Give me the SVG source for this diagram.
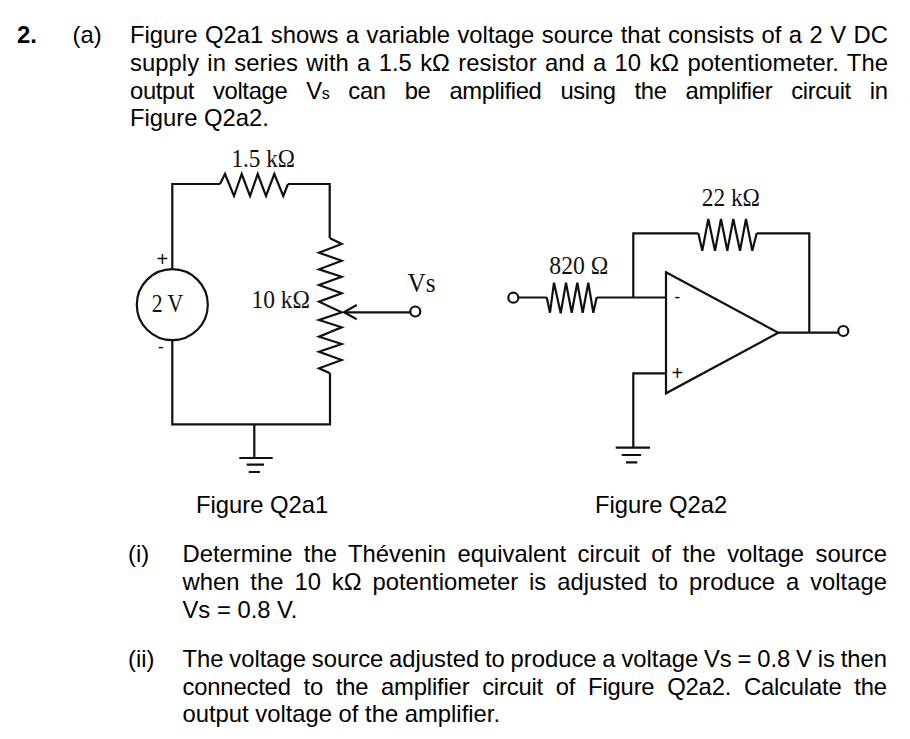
<svg xmlns="http://www.w3.org/2000/svg" width="910" height="739" viewBox="0 0 910 739">
<style>
.t{font-family:"Liberation Sans",Arial,sans-serif;font-size:23.8px;fill:#000}
.b{font-weight:bold}
.s{font-family:"Liberation Serif","Times New Roman",serif;font-size:25px;fill:#111}
.p{font-family:"Liberation Sans",Arial,sans-serif;font-size:20px;fill:#111;text-anchor:middle}
.n{font-family:"Liberation Sans",Arial,sans-serif;font-size:18px;fill:#111;text-anchor:middle}
.w{fill:none;stroke:#111;stroke-width:2.2;stroke-linejoin:miter}
.o{fill:#fff;stroke:#111;stroke-width:2.2}
</style>
<rect width="910" height="739" fill="#fff"/>
<g id="question-text">
<text class="t b" x="17" y="43">2.</text>
<text class="t" x="72.5" y="43">(a)</text>
<text class="t" x="130" y="43" word-spacing="0.84" textLength="758">Figure Q2a1 shows a variable voltage source that consists of a 2 V DC</text>
<text class="t" x="130" y="71" word-spacing="1.59" textLength="758">supply in series with a 1.5 kΩ resistor and a 10 kΩ potentiometer. The</text>
<text class="t" x="130" y="99" word-spacing="12.73" textLength="758">output voltage V<tspan font-size="16">s</tspan> can be amplified using the amplifier circuit in</text>
<text class="t" x="130" y="126">Figure Q2a2.</text>
<text class="t" x="196" y="512.5">Figure Q2a1</text>
<text class="t" x="595" y="512.5">Figure Q2a2</text>
<text class="t" x="128" y="562">(i)</text>
<text class="t" x="182.5" y="562" word-spacing="4.83" textLength="704.5">Determine the Thévenin equivalent circuit of the voltage source</text>
<text class="t" x="182.5" y="590" word-spacing="4.28" textLength="704.5">when the 10 kΩ potentiometer is adjusted to produce a voltage</text>
<text class="t" x="182.5" y="618">Vs = 0.8 V.</text>
<text class="t" x="128" y="667">(ii)</text>
<text class="t" x="182.5" y="667" word-spacing="-0.84" textLength="704.5">The voltage source adjusted to produce a voltage Vs = 0.8 V is then</text>
<text class="t" x="182.5" y="694.5" word-spacing="6.34" textLength="704.5">connected to the amplifier circuit of Figure Q2a2. Calculate the</text>
<text class="t" x="182.5" y="722">output voltage of the amplifier.</text>
</g>
<g id="connectors">
<path class="w" d="M172.3 269V184H220M288 184H329.7V238.3M172.3 340V424.3H330V373.3M254.3 424.3V458"/>
<path class="w" d="M344 312.3H410.3"/>
<path class="w" d="M513.3 297.5H546.7M596.7 297.5H666M633.3 297.5V233.3H698.3M756.7 233.3H809.3V332.7M778.3 332.7H838.3M666 373.3H633.3V447.7"/>
</g>
<g id="source-2v">
<circle class="w" cx="172.3" cy="304.7" r="35.5"/>
<text class="s" x="151.7" y="312" textLength="31.6" lengthAdjust="spacingAndGlyphs">2 V</text>
<text class="p" x="162.3" y="266">+</text>
<text class="n" x="160.7" y="352.5">-</text>
</g>
<g id="r-1k5">
<path class="w" d="M220 184L225 174L234 196L241.7 174L250 196L257.7 174L266 196L274.3 174L283.3 196L288 184"/>
<text class="s" x="231.5" y="166.7" textLength="63.5" lengthAdjust="spacingAndGlyphs">1.5 kΩ</text>
</g>
<g id="pot-10k">
<path class="w" d="M330 238.3L341.7 244L319 252.7L341.7 260.7L319 269.3L341.7 276.7L319 285L341.7 293.3L319 301.7L341.7 312.3L319 320L341.7 327.3L319 336.7L341.7 344L319 351.7L341.7 360L319 368.3L330 373.3"/>
<path class="w" d="M356.7 305L344 312.3L356.7 319.3"/>
<text class="s" x="251.5" y="308" textLength="58.5" lengthAdjust="spacingAndGlyphs">10 kΩ</text>
</g>
<g id="vs-terminal">
<circle class="o" cx="415.3" cy="311.5" r="5"/>
<text class="s" x="407.5" y="292" textLength="28" lengthAdjust="spacingAndGlyphs" style="font-size:27px">Vs</text>
</g>
<g id="ground-1">
<path class="w" d="M239.3 458H272.7M246.7 464.7H264M248.7 472H260"/>
</g>
<g id="input-terminal">
<circle class="o" cx="513.3" cy="297.7" r="5"/>
</g>
<g id="r-820">
<path class="w" d="M546.7 297.3L550 312.7L554 282.7L560.7 313.3L566 282.7L571.7 312.7L577.3 282.7L582.7 312.7L588.3 282.7L593.3 312.7L596.7 297.3"/>
<text class="s" x="549.3" y="274" textLength="59" lengthAdjust="spacingAndGlyphs">820 Ω</text>
</g>
<g id="r-22k">
<path class="w" d="M698.3 233.3L702.3 250.7L708.3 219L715 250.7L721 219L727.3 250.7L733.3 219L740 250.7L746 219L752.3 250.7L756.7 233.3"/>
<text class="s" x="701.7" y="205.7" textLength="58.3" lengthAdjust="spacingAndGlyphs">22 kΩ</text>
</g>
<g id="opamp">
<path class="o" d="M666 272.3L778.3 332.7L666 393.3Z"/>
<text class="n" x="677.3" y="302.7">-</text>
<text class="p" x="677.3" y="380">+</text>
</g>
<g id="output-terminal">
<circle class="o" cx="843.3" cy="331" r="5"/>
</g>
<g id="ground-2">
<path class="w" d="M615.7 447.7H650M621.7 455H641M626 462.3H637.3"/>
</g>
</svg>
